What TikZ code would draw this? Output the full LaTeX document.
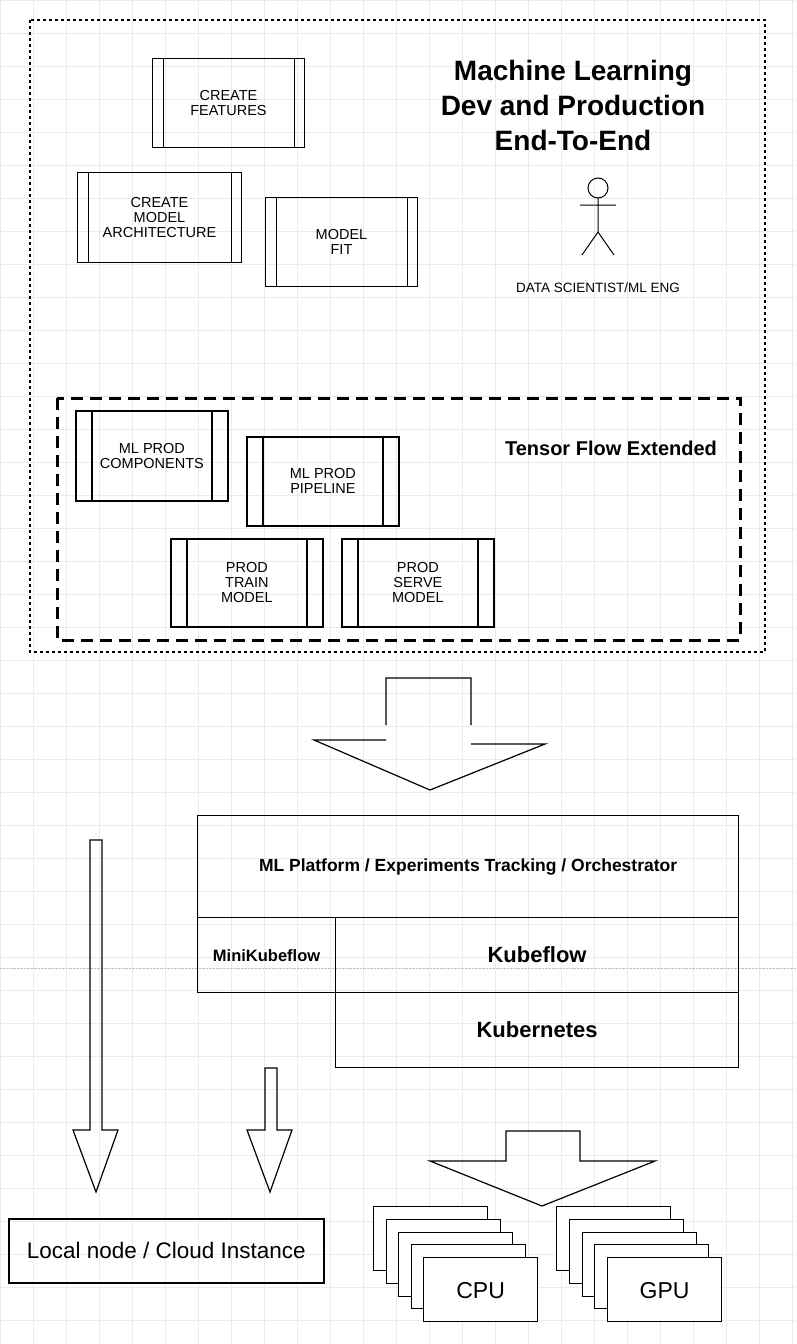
\documentclass[tikz,border=0pt]{standalone}
\usepackage{fontspec}
\setmainfont{Liberation Sans}
\usetikzlibrary{positioning}

\begin{document}
\begin{tikzpicture}[x=1pt,y=-1pt,
    proc/.style={rectangle, draw, minimum width=152pt, minimum height=89pt, anchor=north west, align=center, font=\fontsize{14.5}{15}\selectfont},
    stack/.style={rectangle, draw, fill=white, minimum width=114pt, minimum height=64pt, anchor=north west},
    plat/.style={rectangle, draw, anchor=north west, font=\bfseries}]
    \useasboundingbox (0,0) rectangle (796,1344);
    % grid
    \draw[black!8, line width=0.8pt] (0,0) grid[step=33pt] (796,1344);
    \draw[black!25, densely dotted] (0,968) -- (796,968);

    % dev area
    \draw[dash pattern=on 3pt off 3pt, line width=1.5pt] (30,20) rectangle (765,652);
    \node[align=center, font=\fontsize{28}{35}\selectfont\bfseries] (title) at (573,105) {Machine Learning\\Dev and Production\\End-To-End};
    \draw[line width=1pt] (598,188) circle (10)
        (598,198) -- (598,232) (580,205) -- (616,205)
        (582,255) -- (598,232) -- (614,255);
    \node[font=\fontsize{13.5}{14}\selectfont] (ds) at (598,288) {DATA SCIENTIST/ML ENG};

    \draw[line width=1pt]
    (152,58)node[proc](f){CREATE\\FEATURES}
    (77,172)node[proc, minimum width=164pt, minimum height=90pt](m){CREATE\\MODEL\\ARCHITECTURE}
    (265,197)node[proc](fit){MODEL\\FIT}
    ;
    \foreach \n in {f,m,fit}
        \draw[line width=1pt] ([xshift=11pt]\n.north west) -- ([xshift=11pt]\n.south west)
              ([xshift=-11pt]\n.north east) -- ([xshift=-11pt]\n.south east);

    % tfx
    \draw[line width=3pt, dash pattern=on 12pt off 7pt] (57,398) rectangle (740,640);
    \node[font=\fontsize{20}{22}\selectfont\bfseries] (tfx) at (611,448) {Tensor Flow Extended};
    \draw[line width=1.8pt]
    (75,410)node[proc, minimum height=90pt](c){ML PROD\\COMPONENTS}
    (246,436)node[proc](p){ML PROD\\PIPELINE}
    (170,538)node[proc, minimum height=88pt](t){PROD\\TRAIN\\MODEL}
    (341,538)node[proc, minimum height=88pt](s){PROD\\SERVE\\MODEL}
    ;
    \foreach \n in {c,p,t,s}
        \draw[line width=1.4pt] ([xshift=17pt]\n.north west) -- ([xshift=17pt]\n.south west)
              ([xshift=-17pt]\n.north east) -- ([xshift=-17pt]\n.south east);

    % big arrow
    \draw[line width=1.2pt] (386,725) -- (386,678) -- (471,678) -- (471,725)
        (386,740) -- (314,740) -- (430,790) -- (545,744) -- (471,744);

    % platform
    \draw[line width=1.2pt]
    (197,815)node[plat, minimum width=541pt, minimum height=102pt, font=\fontsize{17.5}{19}\selectfont\bfseries](ml){ML Platform / Experiments Tracking / Orchestrator}
    (197,917)node[plat, minimum width=138pt, minimum height=75pt, font=\fontsize{16.5}{18}\selectfont\bfseries](mk){MiniKubeflow}
    (335,917)node[plat, minimum width=403pt, minimum height=75pt, font=\fontsize{22}{24}\selectfont\bfseries](kf){Kubeflow}
    (335,992)node[plat, minimum width=403pt, minimum height=75pt, font=\fontsize{22}{24}\selectfont\bfseries](k8){Kubernetes}
    ;

    % down arrows
    \draw[line width=1.2pt] (90,840) -- (102,840) -- (102,1130) -- (118,1130) -- (96,1192) -- (73,1130) -- (90,1130) -- cycle;
    \draw[line width=1.2pt] (265,1068) -- (277,1068) -- (277,1130) -- (292,1130) -- (270,1192) -- (247,1130) -- (265,1130) -- cycle;
    \draw[line width=1.2pt] (506,1161) -- (506,1131) -- (580,1131) -- (580,1161) -- (655,1161) -- (542,1206) -- (430,1161) -- cycle;

    \node[rectangle, draw, line width=1.5pt, minimum width=315pt, minimum height=64pt, anchor=north west, font=\fontsize{22.5}{24}\selectfont] (loc) at (8,1218) {Local node / Cloud Instance};

    % compute stacks
    \foreach \i in {0,...,4} {
        \node[stack, line width=1.2pt] (cpu\i) at (373+12.5*\i,1206+12.75*\i) {};
        \node[stack, line width=1.2pt] (gpu\i) at (556+12.75*\i,1206+12.75*\i) {};
    }
    \node[font=\fontsize{23}{25}\selectfont] at ([yshift=-1pt]cpu4.center) {CPU};
    \node[font=\fontsize{23}{25}\selectfont] at ([yshift=-1pt]gpu4.center) {GPU};
\end{tikzpicture}
\end{document}
